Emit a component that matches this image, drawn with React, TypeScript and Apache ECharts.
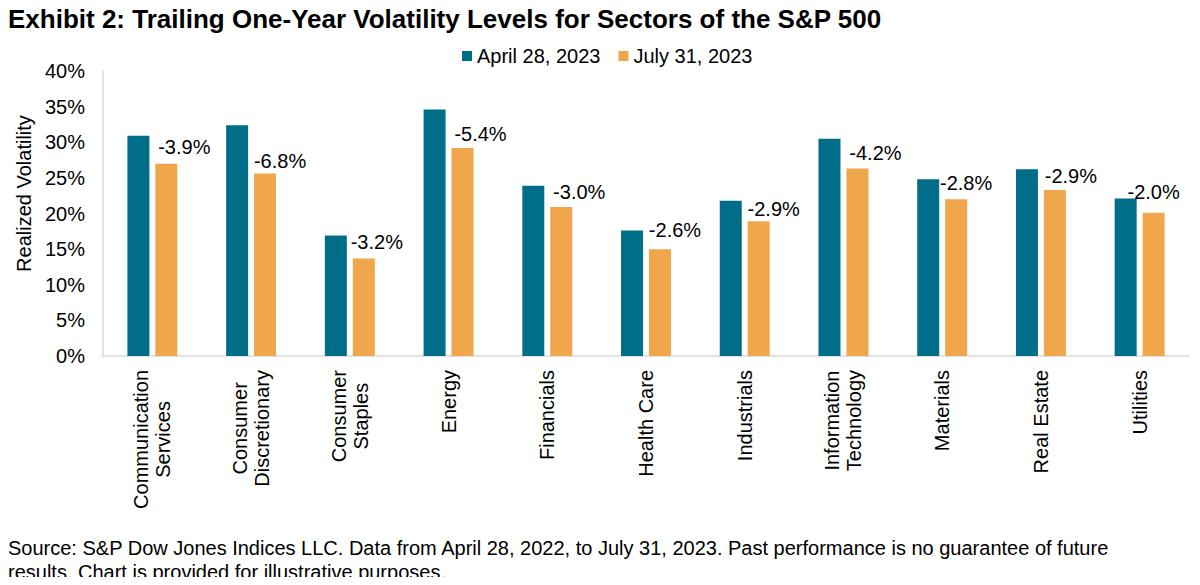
import { useEffect, useRef } from "react";
import * as echarts from "echarts";

const sectors = [
  "Communication\nServices",
  "Consumer\nDiscretionary",
  "Consumer\nStaples",
  "Energy",
  "Financials",
  "Health Care",
  "Industrials",
  "Information\nTechnology",
  "Materials",
  "Real Estate",
  "Utilities",
];
const april2023 = [30.9, 32.4, 16.9, 34.6, 23.9, 17.6, 21.8, 30.5, 24.8, 26.2, 22.1];
const july2023 = [27.0, 25.6, 13.7, 29.2, 20.9, 15.0, 18.9, 26.3, 22.0, 23.3, 20.1];
const changes = ["-3.9%", "-6.8%", "-3.2%", "-5.4%", "-3.0%", "-2.6%", "-2.9%", "-4.2%", "-2.8%", "-2.9%", "-2.0%"];
const yTicks = [0, 5, 10, 15, 20, 25, 30, 35, 40];

// the change labels were nudged by hand in the original, so follow that
const labelNudge = [
  [18, -2], [15, 2], [13, -1], [18, 1], [18, 0], [15, -4],
  [15, 3], [18, -1], [10, -1], [16, 1], [0, -6],
];

const FONT = "'Liberation Sans', Arial, sans-serif";

export default function App() {
  const chartRef = useRef(null);

  useEffect(() => {
    const chart = echarts.init(chartRef.current, null, { renderer: "svg" });

    const options = {
      animation: false,
      title: [
        {
          text: "Exhibit 2: Trailing One-Year Volatility Levels for Sectors of the S&P 500",
          left: 3,
          top: 1,
          textStyle: { fontFamily: FONT, fontSize: 26, fontWeight: "bold", color: "#000" },
        },
        {
          text:
            "Source: S&P Dow Jones Indices LLC. Data from April 28, 2022, to July 31, 2023. Past performance is no guarantee of future\nresults. Chart is provided for illustrative purposes.",
          left: 3,
          top: 531,
          textStyle: {
            fontFamily: FONT,
            fontSize: 20,
            fontWeight: "normal",
            color: "#000",
            lineHeight: 24,
          },
        },
      ],
      legend: {
        top: 41,
        left: 457,
        itemWidth: 10,
        itemHeight: 10,
        itemGap: 18,
        icon: "rect",
        textStyle: { fontFamily: FONT, fontSize: 20, color: "#000" },
      },
      grid: { left: 103, right: 11, top: 71, bottom: 229, containLabel: false },
      xAxis: {
        type: "category",
        data: sectors,
        axisLine: { lineStyle: { color: "#d9d9d9", width: 1.5 } },
        axisTick: { show: false },
        axisLabel: {
          rotate: 90,
          margin: 14,
          interval: 0,
          formatter: (v: string) =>
            v
              .split("\n")
              .map((s) => `{c|${s}}`)
              .join("\n"),
          rich: {
            c: { align: "center", fontFamily: FONT, fontSize: 20, color: "#000", lineHeight: 22 },
          },
        },
      },
      yAxis: {
        type: "value",
        min: yTicks[0],
        max: yTicks[yTicks.length - 1],
        interval: 5,
        name: "Realized Volatility",
        nameLocation: "middle",
        nameGap: 66,
        nameTextStyle: { fontFamily: FONT, fontSize: 20, color: "#000", padding: [0, 0, 0, 40] },
        axisLine: { show: true, lineStyle: { color: "#d9d9d9", width: 1.5 } },
        axisTick: { show: false },
        splitLine: { show: false },
        axisLabel: {
          formatter: "{value}%",
          margin: 18,
          fontFamily: FONT,
          fontSize: 20,
          color: "#000",
        },
      },
      series: [
        {
          name: "April 28, 2023",
          type: "bar",
          data: april2023,
          barWidth: 22,
          barGap: "27%",
          itemStyle: { color: "#006E89" },
        },
        {
          name: "July 31, 2023",
          type: "bar",
          data: july2023.map((v, i) => ({
            value: v,
            label: { offset: labelNudge[i] },
          })),
          barWidth: 22,
          itemStyle: { color: "#F0A64B" },
          label: {
            show: true,
            position: "top",
            distance: 5,
            formatter: (p: { dataIndex: number }) => changes[p.dataIndex],
            fontFamily: FONT,
            fontSize: 20,
            color: "#000",
          },
        },
      ],
    };

    chart.setOption(options);

    return () => {
      chart.dispose();
    };
  }, []);

  return <div ref={chartRef} style={{ width: "1200px", height: "585px", margin: "-8px" }} />;
}
